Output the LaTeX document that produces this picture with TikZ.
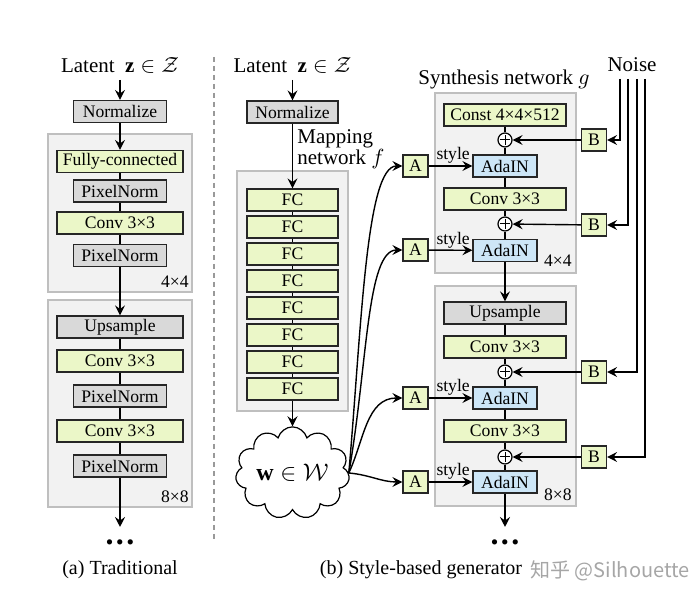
\documentclass[tikz,border=0pt]{standalone}
\usepackage{fontspec}
\setmainfont{Liberation Serif}
\newfontfamily\cjk{Noto Sans CJK SC}
\usetikzlibrary{arrows.meta,shapes.symbols,positioning}

\definecolor{boxgreen}{HTML}{EBF7C8}
\definecolor{boxgray}{HTML}{D9D9D9}
\definecolor{boxblue}{HTML}{CDE6F7}
\definecolor{blockfill}{HTML}{F2F2F2}
\definecolor{blockline}{HTML}{BFBFBF}

\tikzset{
  box/.style={draw=black!85,line width=0.6pt,inner sep=0pt,minimum height=11pt,font=\fontsize{8.8}{10}\selectfont},
  wbox/.style={box,fill=boxgreen,minimum width=63pt},
  nbox/.style={box,fill=boxgray,minimum width=46.5pt},
  ubox/.style={box,fill=boxgray,minimum width=63pt},
  fcbox/.style={box,fill=boxgreen,minimum width=45.5pt},
  sbox/.style={box,fill=boxgreen,minimum width=61pt},
  sgray/.style={box,fill=boxgray,minimum width=61pt},
  ada/.style={box,fill=boxblue,minimum width=32pt},
  abox/.style={box,fill=boxgreen,minimum width=12.5pt},
  addnode/.style={circle,draw,fill=white,line width=0.6pt,minimum size=7pt,inner sep=0pt,
    path picture={\draw[line width=0.5pt] ([xshift=1.1pt]path picture bounding box.west) -- ([xshift=-1.1pt]path picture bounding box.east)
      ([yshift=-1.1pt]path picture bounding box.north) -- ([yshift=1.1pt]path picture bounding box.south);}},
  block/.style={fill=blockfill,draw=blockline,line width=0.6pt},
  flow/.style={line width=0.7pt},
  arr/.style={flow,-{Stealth[length=5pt,width=5pt,inset=1.8pt]}},
  title/.style={font=\fontsize{10.5}{10.5}\selectfont},
  res/.style={anchor=east,inner sep=0pt,font=\fontsize{8.8}{10}\selectfont},
  stylelbl/.style={above,inner sep=0.8pt,font=\fontsize{8.8}{10}\selectfont},
  dots/.style={font=\fontsize{16}{16}\bfseries},
  caption/.style={font=\fontsize{10}{12}\selectfont},
  sep/.style={draw=black!40,line width=0.6pt,dash pattern=on 2.5pt off 2pt},
}

\begin{document}
\begin{tikzpicture}[x=0.5pt,y=0.5pt]
\useasboundingbox (0,0) rectangle (692,598);

% (a) traditional
\draw[block] (48,464) rectangle (192,306);
\draw[block] (48,298) rectangle (192,91);
\node[title] (zA) at (120,533) {Latent\enspace$\mathbf{z}\in\mathcal{Z}$};
\foreach \sty/\txt/\y [count=\n] in {nbox/Normalize/486.5, wbox/Fully-connected/436.5, nbox/PixelNorm/407,
    wbox/Conv 3×3/375, nbox/PixelNorm/342.5, ubox/Upsample/271, wbox/Conv 3×3/237,
    nbox/PixelNorm/202, wbox/Conv 3×3/167, nbox/PixelNorm/132}
  \node[\sty] (L\n) at (120,\y) {\txt};
\draw[arr] (zA) -- (L1);
\draw[arr] (L1) -- (L2);
\foreach \i/\j in {2/3,3/4,4/5,6/7,7/8,8/9,9/10} \draw[flow] (L\i) -- (L\j);
\draw[arr] (L5) -- (L6);
\coordinate (endA) at (120,71);
\draw[arr] (L10) -- (endA);
\node[res] (resA1) at (189,316) {4×4};
\node[res] (resA2) at (189,101) {8×8};
\node[dots] (dotsA) at (120,56) {.\kern1.2pt.\kern1.2pt.};
\node[caption] (capA) at (120,28) {(a) Traditional};

\draw[sep] (214,541) -- (214,58);

% (b) mapping network
\draw[block] (237,427) rectangle (348,187);
\node[title] (zB) at (292.5,533) {Latent\enspace$\mathbf{z}\in\mathcal{Z}$};
\node[box,fill=boxgray,minimum width=45.5pt] (M0) at (292.5,486) {Normalize};
\node[title,anchor=north west,align=left,inner sep=0pt] (maptxt) at (297,469) {Mapping\\network $f$};
\foreach \n in {1,...,8}
  \node[fcbox] (FC\n) at (292.5,{425-27*\n}) {FC};
\foreach \n [count=\p] in {2,...,8} \draw[flow] (FC\p) -- (FC\n);
\node[cloud,draw,line width=0.6pt,cloud puffs=11,aspect=1.4,minimum width=55.5pt,minimum height=41.5pt,
  inner sep=0pt,font=\fontsize{12}{12}\selectfont] (wnode) at (292.5,125) {$\mathbf{w}\in\mathcal{W}$};
\draw[arr] (zB) -- (M0);
\draw[arr] (M0) -- (FC1);
\draw[arr] (FC8) -- (wnode);

% A boxes
\foreach \y [count=\n] in {432,348,200,116}
  \node[abox] (A\n) at (415.5,\y) {A};
\draw[arr] (wnode.east) to[out=85,in=180,out looseness=1.2,in looseness=0.3] (A1);
\draw[arr] (wnode.east) to[out=80,in=180,out looseness=1.2,in looseness=0.4] (A2);
\draw[arr] (wnode.east) to[out=65,in=180] (A3);
\draw[arr] (wnode.east) to[out=-5,in=180] (A4);

% synthesis network
\draw[block] (435,505) rectangle (576,325);
\draw[block] (435,312) rectangle (576,92);
\node[title] (syn) at (504,519) {Synthesis network $g$};
\foreach \sty/\txt/\y [count=\n] in {sbox/Const 4×4×512/483, addnode//458, ada/AdaIN/432, sbox/Conv 3×3/399,
    addnode//374, ada/AdaIN/347.5, sgray/Upsample/285, sbox/Conv 3×3/251, addnode//226,
    ada/AdaIN/200, sbox/Conv 3×3/167, addnode//141, ada/AdaIN/116}
  \node[\sty] (S\n) at (505,\y) {\txt};
\foreach \i/\j in {1/2,2/3,3/4,4/5,5/6,7/8,8/9,9/10,10/11,11/12,12/13} \draw[flow] (S\i) -- (S\j);
\draw[arr] (S6) -- (S7);
\coordinate (endB) at (505,71);
\draw[arr] (S13) -- (endB);
\node[res] (resB1) at (572,337) {4×4};
\node[res] (resB2) at (572,103) {8×8};
\node[dots] (dotsB) at (505,56) {.\kern1.2pt.\kern1.2pt.};

% styles
\foreach \a/\s in {1/3,2/6,3/10,4/13}
  \draw[arr] (A\a) -- node[stylelbl,pos=0.56] {style} (S\s);

% noise
\node[title] (noise) at (632,533) {Noise};
\foreach \y [count=\n] in {458,373,226,141}
  \node[abox] (B\n) at (594,\y) {B};
\foreach \b/\s in {1/2,2/5,3/9,4/12} \draw[arr] (B\b) -- (S\s);
\foreach \x [count=\n] in {620,628,637,645} {
  \coordinate (nz\n) at (\x,519);
  \draw[arr] (nz\n) |- (B\n);
}

\node[caption] (capB) at (421,28) {(b) Style-based generator};
\node[anchor=west,inner sep=0pt,text=black!35,font=\cjk\fontsize{10}{10}\selectfont] (mark) at (530,27) {知乎 @Silhouette};
\end{tikzpicture}
\end{document}
